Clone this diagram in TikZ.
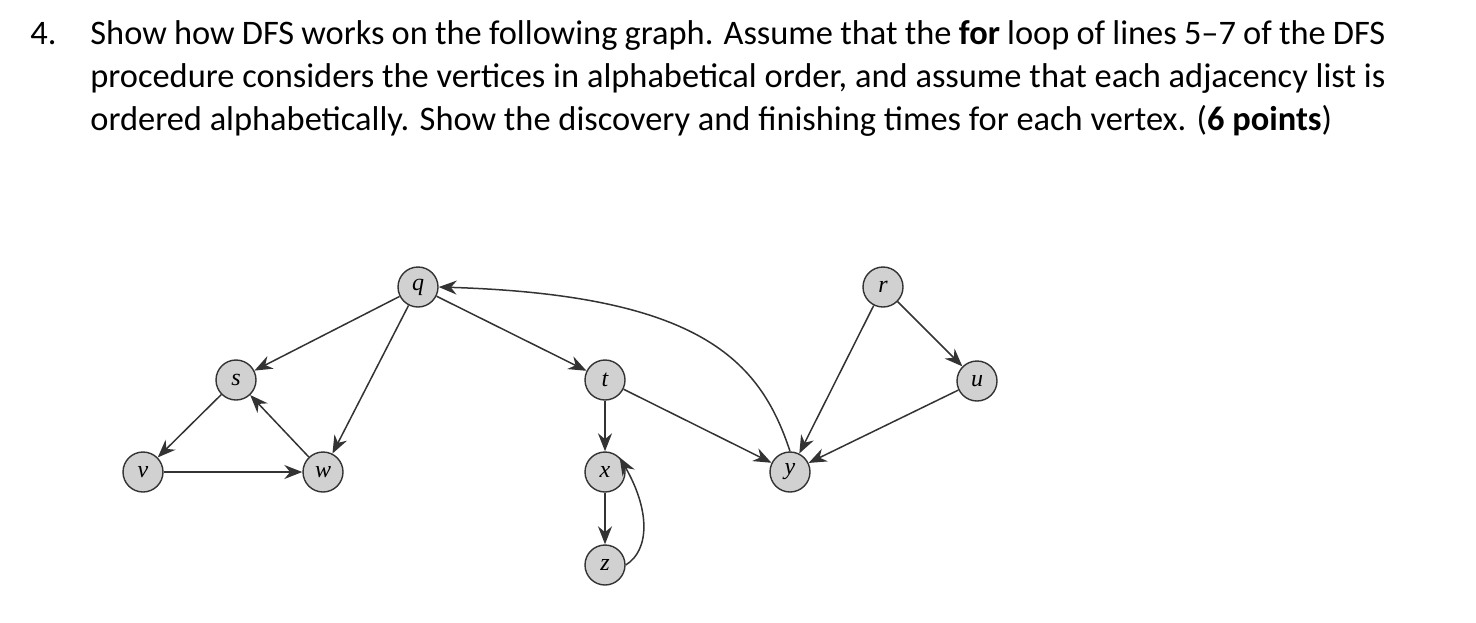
\documentclass[tikz,border=0pt]{standalone}
\usepackage{fontspec}
\setmainfont{Carlito}
\newfontfamily\vfont{Liberation Serif}
\usetikzlibrary{arrows.meta}
\begin{document}
\begin{tikzpicture}[x=0.5pt,y=-0.5pt,
  vtx/.style={circle,draw=black!80,fill=black!18,line width=0.7pt,minimum size=20pt,inner sep=0pt,font=\vfont\itshape\fontsize{12}{12}\selectfont},
  edge/.style={draw=black!80,line width=0.75pt,-{Stealth[length=9pt,width=7pt]}},
  txt/.style={inner sep=0pt,anchor=base west,font=\fontsize{17.2}{21.5}\selectfont}]
\useasboundingbox (0,0) rectangle (1476,622);
\node[txt] (n4) at (30,44) {4.};
\node[txt] (l1) at (90,44) {\hbox to 647.5pt{Show how DFS works on the following graph. Assume that the \textbf{for} loop of lines 5--7 of the DFS}};
\node[txt] (l2) at (90,87) {\hbox to 647.5pt{procedure considers the vertices in alphabetical order, and assume that each adjacency list is}};
\node[txt] (l3) at (90,130) {ordered alphabetically. Show the discovery and finishing times for each vertex. (\textbf{6 points})};
\node[vtx] (q) at (418,287) {q};
\node[vtx] (r) at (883,287) {r};
\node[vtx] (s) at (236,380) {s};
\node[vtx] (t) at (605,380) {t};
\node[vtx] (u) at (977,381) {u};
\node[vtx] (v) at (143,472) {v};
\node[vtx] (w) at (323,472) {w};
\node[vtx] (x) at (605,472) {x};
\node[vtx] (y) at (790,472) {y};
\node[vtx] (z) at (605,565) {z};
\draw[edge] (q) -- (s);
\draw[edge] (q) -- (w);
\draw[edge] (q) -- (t);
\draw[edge] (y.north) .. controls (760,360) and (700,295) .. (q.east);
\draw[edge] (s) -- (v);
\draw[edge] (v) -- (w);
\draw[edge] (w) -- (s);
\draw[edge] (t) -- (x);
\draw[edge] (t) -- (y);
\draw[edge] (x) -- (z);
\draw[edge] (z.east) .. controls (650,550) and (650,510) .. (x.north east);
\draw[edge] (r) -- (y);
\draw[edge] (r) -- (u);
\draw[edge] (u) -- (y);
\end{tikzpicture}
\end{document}
